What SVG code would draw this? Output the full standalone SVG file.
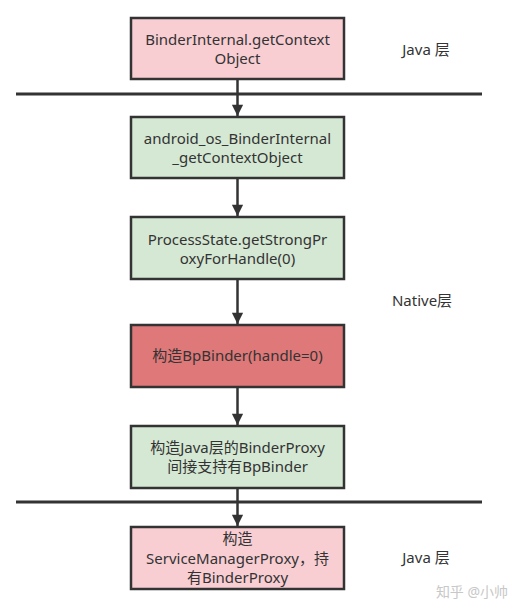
<svg xmlns="http://www.w3.org/2000/svg" width="514" height="616" viewBox="0 0 514 616">
<defs>
<style>
.box{stroke:#333;stroke-width:2.5}
.pink{fill:#f8ced3}
.green{fill:#d5e8d4}
.red{fill:#df7878}
text{font-family:"Noto Sans","Noto Sans CJK SC",sans-serif;font-size:15px;fill:#333;text-anchor:middle}
.lbl{font-size:15px;fill:#333}
.sep{stroke:#333;stroke-width:3}
.conn{stroke:#333;stroke-width:2.5;fill:none;marker-end:url(#ah)}
</style>
<marker id="ah" viewBox="0 0 10 10" refX="10" refY="5" markerWidth="5" markerHeight="4.5" orient="auto" markerUnits="strokeWidth">
<path d="M0,0 L10,5 L0,10 z" fill="#333"/>
</marker>
</defs>
<rect width="514" height="616" fill="#fff"/>
<g id="separators">
<line class="sep" x1="16" y1="94" x2="482" y2="94"/>
<line class="sep" x1="16" y1="502" x2="482" y2="502"/>
</g>
<g id="connectors">
<line class="conn" x1="237.5" y1="79" x2="237.5" y2="116"/>
<line class="conn" x1="237.5" y1="178" x2="237.5" y2="216"/>
<line class="conn" x1="237.5" y1="279" x2="237.5" y2="324"/>
<line class="conn" x1="237.5" y1="387" x2="237.5" y2="425"/>
<line class="conn" x1="237.5" y1="488" x2="237.5" y2="526"/>
</g>
<g id="n1">
<rect class="box pink" x="131" y="18" width="213" height="61"/>
<text x="237.5" y="45">BinderInternal.getContext</text>
<text x="237.5" y="64">Object</text>
</g>
<g id="n2">
<rect class="box green" x="131" y="117" width="213" height="61"/>
<text x="237.5" y="144">android_os_BinderInternal</text>
<text x="237.5" y="163">_getContextObject</text>
</g>
<g id="n3">
<rect class="box green" x="131" y="217" width="213" height="62"/>
<text x="237.5" y="245">ProcessState.getStrongPr</text>
<text x="237.5" y="264">oxyForHandle(0)</text>
</g>
<g id="n4">
<rect class="box red" x="131" y="325" width="213" height="62"/>
<text x="237.5" y="361">构造BpBinder(handle=0)</text>
</g>
<g id="n5">
<rect class="box green" x="131" y="426" width="213" height="62"/>
<text x="237.5" y="453">构造Java层的BinderProxy</text>
<text x="237.5" y="472">间接支持有BpBinder</text>
</g>
<g id="n6">
<rect class="box pink" x="131" y="527" width="213" height="62"/>
<text x="237.5" y="544">构造</text>
<text x="237.5" y="563.5">ServiceManagerProxy，持</text>
<text x="237.5" y="583">有BinderProxy</text>
</g>
<g id="labels">
<text class="lbl" x="426" y="55">Java 层</text>
<text class="lbl" x="422" y="306">Native层</text>
<text class="lbl" x="426" y="563">Java 层</text>
<text x="472" y="597" style="font-size:14px;fill:#c8c8c8">知乎 @小帅</text>
</g>
</svg>
